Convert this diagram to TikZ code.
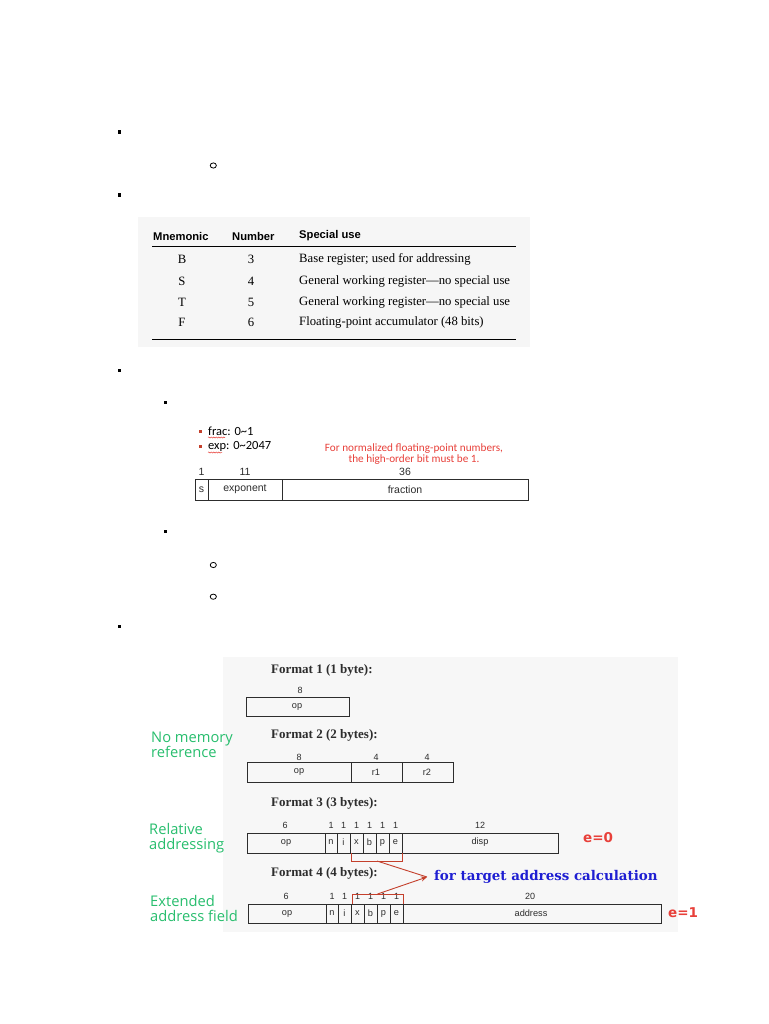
\documentclass[tikz,border=0pt]{standalone}
\usepackage{fontspec}
\setmainfont{Liberation Serif}
\newfontfamily\carl{Carlito}
\newfontfamily\osans{Open Sans}
\newfontfamily\lsans{Liberation Sans}
\newfontfamily\dsans{DejaVu Sans}
\newfontfamily\dserif{DejaVu Serif}
\usetikzlibrary{arrows.meta,decorations.pathmorphing}
\definecolor{grn}{RGB}{40,190,110}
\definecolor{redt}{RGB}{232,64,58}
\definecolor{brk}{RGB}{196,64,44}
\definecolor{blu}{RGB}{30,30,210}
\definecolor{ink}{RGB}{45,45,45}
\begin{document}
\begin{tikzpicture}[x=1pt,y=-1pt,
  sq/.style={fill=black,inner sep=0pt,minimum size=3.6pt},
  hdr/.style={font=\lsans\bfseries\fontsize{11.2}{13}\selectfont,anchor=west,inner sep=0pt},
  cell/.style={font=\fontsize{12.7}{14}\selectfont,inner sep=0pt},
  fld/.style={font=\lsans\fontsize{10.5}{12}\selectfont,inner sep=0pt,text=ink},
  bits/.style={font=\lsans\fontsize{9}{10}\selectfont,inner sep=0pt,text=ink},
  flab/.style={font=\lsans\fontsize{9.2}{10}\selectfont,inner sep=0pt,text=ink},
  fmt/.style={font=\bfseries\fontsize{13}{14}\selectfont,anchor=west,inner sep=0pt,text=ink},
  note/.style={font=\osans\fontsize{14.7}{15}\selectfont,text=grn,align=left,anchor=west,inner sep=0pt},
  eval/.style={font=\dsans\bfseries\fontsize{13.5}{15}\selectfont,text=redt,anchor=west,inner sep=0pt},
  boxline/.style={draw=ink,line width=0.8pt},
  brack/.style={draw=brk,line width=0.9pt}]
\useasboundingbox (0,0) rectangle (768,1024);
\fill[white] (0,0) rectangle (768,1024);

% bullets
\node[sq] (b1) at (119.3,132) {};
\draw[line width=0.8pt] (213.3,165.5) ellipse (3.1 and 2.6);
\node[sq] (b2) at (119.3,195) {};
\node[sq] (b3) at (119.3,370.5) {};
\node[sq] (b4) at (165.5,402.5) {};
\node[sq] (b5) at (165.5,531.5) {};
\draw[line width=0.8pt] (213.3,565) ellipse (3.1 and 2.6);
\draw[line width=0.8pt] (213.3,596.7) ellipse (3.1 and 2.6);
\node[sq] (b6) at (119.3,626.5) {};

% register table
\fill[gray!7] (138,217) rectangle (530,347);
\node[hdr] (h1) at (153,236) {Mnemonic};
\node[hdr] (h2) at (232,236) {Number};
\node[hdr] (h3) at (299,236) {Special use};
\draw[line width=0.9pt] (152,246) -- (516,246);
\node[cell] (rB) at (182,259.5) {B};
\node[cell] (n3) at (251,259.5) {3};
\node[cell,anchor=west] (uB) at (299,259.5) {Base register; used for addressing};
\node[cell] (rS) at (182,281) {S};
\node[cell] (n4) at (251,281) {4};
\node[cell,anchor=west] (uS) at (299,281) {General working register—no special use};
\node[cell] (rT) at (182,302) {T};
\node[cell] (n5) at (251,302) {5};
\node[cell,anchor=west] (uT) at (299,302) {General working register—no special use};
\node[cell] (rF) at (182,322.5) {F};
\node[cell] (n6) at (251,322.5) {6};
\node[cell,anchor=west] (uF) at (299,322.5) {Floating-point accumulator (48 bits)};
\draw[line width=0.9pt] (152,339) -- (516,339);

% floating point format
\node[fill=brk,inner sep=0pt,minimum size=2.8pt] (fb1) at (200.7,431.5) {};
\node[fill=brk,inner sep=0pt,minimum size=2.8pt] (fb2) at (200.7,446.5) {};
\node[font=\carl\fontsize{12.5}{14}\selectfont,anchor=west,inner sep=0pt] (frac) at (208,431) {frac: 0\textasciitilde 1};
\node[font=\carl\fontsize{12.5}{14}\selectfont,anchor=west,inner sep=0pt] (expo) at (208,446) {exp: 0\textasciitilde 2047};
\draw[redt,line width=0.5pt,decorate,decoration={snake,amplitude=0.6pt,segment length=2.5pt}] (208,437.5) -- (225,437.5);
\draw[redt,line width=0.5pt,decorate,decoration={snake,amplitude=0.6pt,segment length=2.5pt}] (208,452.5) -- (222,452.5);
\node[font=\carl\fontsize{11.2}{10.5}\selectfont,text=redt,align=center,inner sep=0pt] (norm) at (414,454) {For normalized floating-point numbers,\\the high-order bit must be 1.};
\node[fld] (d1) at (201.5,471.5) {1};
\node[fld] (d11) at (245,471.5) {11};
\node[fld] (d36) at (405,471.5) {36};
\draw[boxline] (195,479) rectangle (528,500);
\draw[boxline] (208,479) -- (208,500) (282,479) -- (282,500);
\node[fld] (fs) at (201.5,489.5) {s};
\node[fld] (fe) at (245,489.5) {exponent};
\node[fld] (ff) at (405,489.5) {fraction};

% SIC/XE instruction formats
\fill[gray!6] (223,657) rectangle (678,932);
\node[fmt] (f1) at (271,670) {Format 1 (1 byte):};
\node[bits] at (300,690) {8};
\draw[boxline] (246,697) rectangle (349,716);
\node[flab] (op1) at (297,707) {op};

\node[note] (nomem) at (151,744.5) {No memory\\reference};
\node[fmt] (f2) at (271,735) {Format 2 (2 bytes):};
\node[bits] at (299,757.5) {8};
\node[bits] at (376,757.5) {4};
\node[bits] at (427,757.5) {4};
\draw[boxline] (247,762) rectangle (453,782);
\draw[boxline] (351,762) -- (351,782) (402,762) -- (402,782);
\node[flab] (op2) at (299,772) {op};
\node[flab] (r1) at (376,772) {r1};
\node[flab] (r2) at (427,772) {r2};

\node[note] (rel) at (149,838) {Relative\\addressing};
\node[fmt] (f3) at (271,803) {Format 3 (3 bytes):};
\node[bits] at (285,825) {6};
\foreach \xx in {331,343.5,356.5,369.5,382.5,395.5} \node[bits] at (\xx,825) {1};
\node[bits] at (480,825) {12};
\draw[boxline] (247,833) rectangle (558,853);
\foreach \xx in {325,337,350,363,376,389,402} \draw[boxline] (\xx,833) -- (\xx,853);
\node[flab] (op3) at (286,842.5) {op};
\node[flab] (n3b) at (331,842.5) {n};
\node[flab] (i3b) at (343.5,842.5) {i};
\node[flab] (x3b) at (356.5,842.5) {x};
\node[flab] (bb3) at (369.5,842.5) {b};
\node[flab] (p3b) at (382.5,842.5) {p};
\node[flab] (e3b) at (395.5,842.5) {e};
\node[flab] (disp) at (480,842.5) {disp};
\node[eval] (e0) at (583,838) {e=0};
\draw[brack] (351,853) -- (351,861) -- (402,861) -- (402,853);

\node[note] (ext) at (150,908.5) {Extended\\address field};
\node[fmt] (f4) at (271,873) {Format 4 (4 bytes):};
\node[bits] at (286,896) {6};
\foreach \xx in {332,344.5,357.5,370.5,383.5,396.5} \node[bits] at (\xx,896) {1};
\node[bits] at (530,896) {20};
\draw[boxline] (248,904) rectangle (661,923);
\foreach \xx in {326,338,351,364,377,390,403} \draw[boxline] (\xx,904) -- (\xx,923);
\node[flab] (op4) at (287,913.5) {op};
\node[flab] (n4b) at (332,913.5) {n};
\node[flab] (i4b) at (344.5,913.5) {i};
\node[flab] (x4b) at (357.5,913.5) {x};
\node[flab] (bb4) at (370.5,913.5) {b};
\node[flab] (p4b) at (383.5,913.5) {p};
\node[flab] (e4b) at (396.5,913.5) {e};
\node[flab] (addr) at (531,913.5) {address};
\node[eval] (e1) at (668,913) {e=1};
\draw[brack] (352,904) -- (352,894) -- (403,894) -- (403,904);

\coordinate (t3) at (377,861);
\coordinate (t4) at (377.5,894);
\coordinate (tip) at (427,877);
\draw[brk,line width=0.9pt] (t3) -- (tip);
\draw[brk,line width=0.9pt,-{Stealth[length=6pt,width=5pt]}] (t4) -- (tip);
\node[font=\dserif\bfseries\fontsize{13.4}{14}\selectfont,text=blu,anchor=west,inner sep=0pt] (calc) at (434,877) {for target address calculation};
\end{tikzpicture}
\end{document}
